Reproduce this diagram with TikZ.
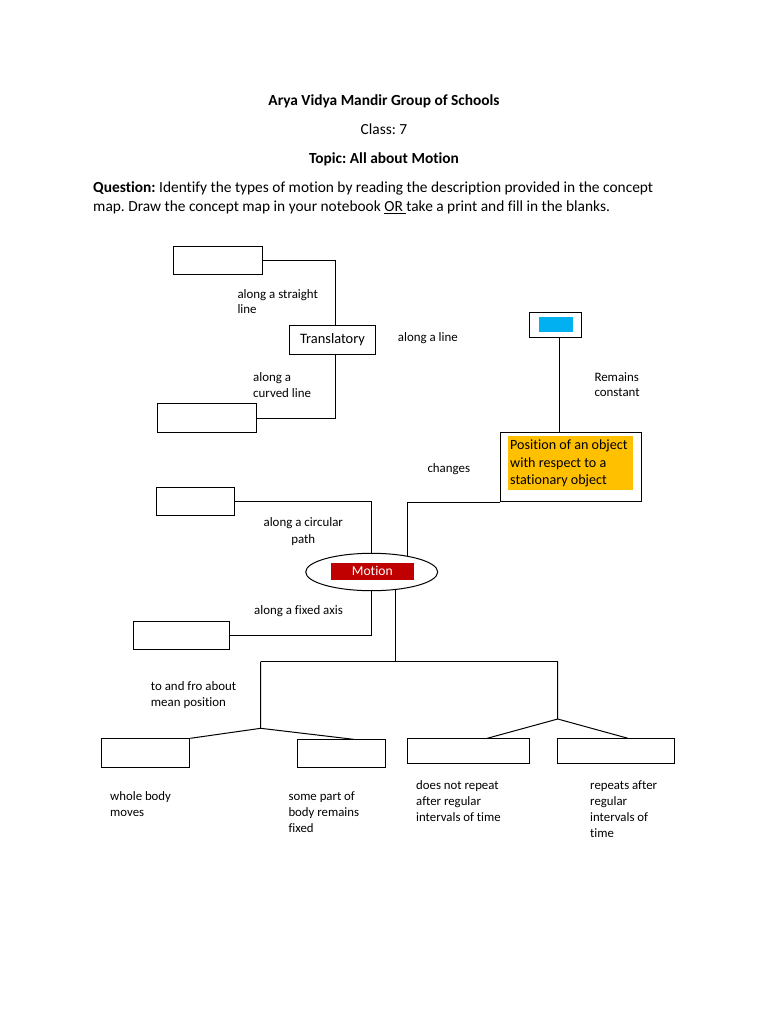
\documentclass[tikz,border=0pt]{standalone}
\usepackage{fontspec}
\setmainfont{Carlito}[Ligatures={CommonOff,ContextualOff}]
\usetikzlibrary{shapes.geometric,calc}
\definecolor{cyanfill}{HTML}{00B0F0}
\definecolor{orangefill}{HTML}{FFC000}
\definecolor{redfill}{HTML}{C00000}
\frenchspacing
\begin{document}
\begin{tikzpicture}[x=1pt,y=-1pt,
  blankbox/.style={draw, line width=1pt, rectangle, inner sep=0, anchor=north west},
  conn/.style={draw, line width=1pt},
  lbl/.style={font=\fontsize{12.9}{15.5}\selectfont, align=left, anchor=base west, inner sep=0},
  lblb/.style={font=\fontsize{12.8}{16}\selectfont, align=left, anchor=base west, inner sep=0},
  head/.style={font=\fontsize{15.4}{17}\selectfont, anchor=base, inner sep=0},
  body/.style={font=\fontsize{15.4}{19}\selectfont, anchor=base west, inner sep=0}]
\useasboundingbox (0,0) rectangle (768,1024);
\fill[white] (0,0) rectangle (768,1024);

% header
\node[head] (title) at (384,106) {\textbf{Arya Vidya Mandir Group of Schools}};
\node[head] (class) at (384,135) {Class: 7};
\node[head] (topic) at (384,164) {\textbf{Topic: All about Motion}};
\node[body] (q1) at (93,193) {\textbf{Question:} Identify the types of motion by reading the description provided in the concept};
\node[body] (q2) at (93,212) {map. Draw the concept map in your notebook \underline{OR\ }take a print and fill in the blanks.};

% boxes
\node[blankbox, minimum width=89, minimum height=28] (bA) at (173,246) {};
\node[blankbox, minimum width=86.6, minimum height=29, font=\fontsize{14.4}{15}\selectfont] (tr) at (288.7,325) {Translatory};
\node[blankbox, minimum width=99.3, minimum height=29] (bB) at (156.7,403.3) {};
\node[blankbox, minimum width=51.4, minimum height=25] (sb) at (529.3,311.7) {};
\node[fill=cyanfill, inner sep=0, anchor=north west, minimum width=34.7, minimum height=15] (cy) at (538.3,316.7) {};
\node[blankbox, minimum width=140.7, minimum height=68.7] (pos) at (500,432.3) {};
\node[fill=orangefill, inner sep=0, anchor=north west, minimum width=125.4, minimum height=54] (or) at (507.3,436) {};
\node[anchor=base west, inner sep=0, align=left, font=\fontsize{14.1}{17.5}\selectfont] (postext) at (510,484.5) {Position of an object\\with respect to a\\stationary object};
\node[blankbox, minimum width=78, minimum height=28.3] (bC) at (156,486.7) {};
\node[draw, line width=1pt, ellipse, minimum width=132, minimum height=37.4, inner sep=0] (mo) at (371.7,572) {};
\node[fill=redfill, text=white, inner sep=0, minimum width=82.7, minimum height=17.3, font=\fontsize{13.6}{15}\selectfont] (motion) at (372.3,571.3) {Motion};
\node[blankbox, minimum width=96.3, minimum height=28.6] (bD) at (132.7,620.7) {};
\node[blankbox, minimum width=88, minimum height=29] (bw) at (101.3,738.3) {};
\node[blankbox, minimum width=88, minimum height=28] (bs) at (297,739.3) {};
\node[blankbox, minimum width=122.6, minimum height=25] (bd) at (406.7,738.3) {};
\node[blankbox, minimum width=116.4, minimum height=25] (br) at (557.3,738.3) {};

% labels (base anchor = baseline of the last line)
\node[lbl, font=\fontsize{12.9}{14.5}\selectfont] (l1) at (237.3,313) {along a straight\\line};
\node[lbl] (l2) at (253,397) {along a\\curved line};
\node[lbl] (l3) at (397.7,341) {along a line};
\node[lbl, font=\fontsize{12.9}{14.5}\selectfont] (l4) at (594.3,396) {Remains\\constant};
\node[lbl] (l5) at (427.3,472.5) {changes};
\node[lbl, align=center, anchor=base, font=\fontsize{12.9}{16.5}\selectfont] (l6) at (303.3,543) {along a circular\\path};
\node[lbl] (l7) at (254,614) {along a fixed axis};
\node[lbl] (l8) at (150.7,706.3) {to and fro about\\mean position};
\node[lblb] (l9) at (110,816.5) {whole body\\moves};
\node[lblb] (l10) at (288.3,832) {some part of\\body remains\\fixed};
\node[lblb] (l11) at (416,821) {does not repeat\\after regular\\intervals of time};
\node[lblb] (l12) at (590,837) {repeats after\\regular\\intervals of\\time};

% junctions
\coordinate (hL) at (260.7,661.7);
\coordinate (hR) at (557.7,661.7);
\coordinate (fL) at (260.7,728.3);
\coordinate (fR) at (557.7,719);

% connectors
\draw[conn] (bA.east) -| ([xshift=3pt]tr.north);
\draw[conn] ([xshift=3pt]tr.south) |- (bB.east);
\draw[conn] ([xshift=4pt]sb.south) -- ([xshift=4pt]sb.south |- pos.north);
\draw[conn] (pos.south west) -| (mo.24);
\draw[conn] (bC.east) -| (mo.north);
\draw[conn] (bD.east) -| (mo.south);
\draw[conn] (mo.-37) -- (mo.-37 |- hL);
\draw[conn] (hL) -- (hR);
\draw[conn] (hL) -- (fL) -- (bw.north east);
\draw[conn] (fL) -- ([xshift=12pt]bs.north);
\draw[conn] (hR) -- (fR) -- ([xshift=18.7pt]bd.north);
\draw[conn] (fR) -- ([xshift=12pt]br.north);
\end{tikzpicture}
\end{document}
